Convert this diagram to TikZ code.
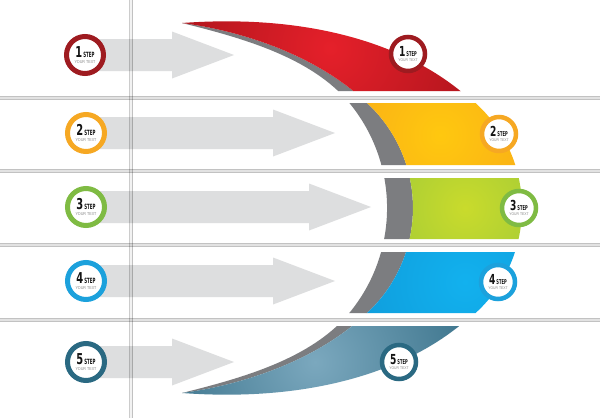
\documentclass[tikz,border=0pt]{standalone}
\usepackage{fontspec}
\setmainfont{Liberation Sans}
\newfontfamily\numfam{DejaVu Sans}
\usepackage{graphicx}
\definecolor{sepfill}{HTML}{E2E2E2}
\definecolor{sepline}{HTML}{C2C2C2}
\definecolor{arrowgray}{HTML}{DDDEDF}
\definecolor{cgray}{HTML}{7C7D80}
\definecolor{redA}{HTML}{E5202A}
\definecolor{redB}{HTML}{860C12}
\definecolor{orA}{HTML}{FFC80F}
\definecolor{orB}{HTML}{F4961E}
\definecolor{grA}{HTML}{C9DB2C}
\definecolor{grB}{HTML}{76B743}
\definecolor{blA}{HTML}{12B1EE}
\definecolor{blB}{HTML}{0C88C9}
\definecolor{tlA}{HTML}{7BA8BE}
\definecolor{tlB}{HTML}{195770}
\definecolor{ring1}{HTML}{9E1B20}
\definecolor{ring2}{HTML}{F6A823}
\definecolor{ring3}{HTML}{7FBB43}
\definecolor{ring4}{HTML}{1CA1DC}
\definecolor{ring5}{HTML}{2A6982}
\definecolor{textgray}{HTML}{8A8A8A}
\definecolor{textblack}{HTML}{141414}
\newcommand\stepnum[1]{{\numfam\fontsize{15}{15}\selectfont\bfseries\scalebox{0.66}[1]{#1}}}
\newcommand\stepword{{\numfam\fontsize{7.2}{7.2}\selectfont\bfseries\scalebox{0.55}[1]{STEP}}}
\newcommand\steptext{{\color{textgray}\scalebox{0.85}[1]{YOUR TEXT}}}
\newcommand\steplabel[1]{\stepnum{#1}\hspace{1pt}\stepword\\\steptext}
\def\colorregion{(182,23) .. controls (305,14) and (400,42) .. (460.4,91) arc[start angle=-55.5, end angle=55.5, radius=142] .. controls (400,374) and (305,402) .. (182,393) .. controls (242,385) and (317,361) .. (367.5,312.6) arc[start angle=47, end angle=-47, radius=143] .. controls (317,55) and (242,31) .. (182,23) -- cycle}
\def\grayregion{(182,23) .. controls (242,31) and (317,55) .. (367.5,103.4) arc[start angle=-47, end angle=47, radius=143] .. controls (317,361) and (242,385) .. (182,393) .. controls (242,378) and (311,359) .. (349.2,313.1) arc[start angle=39.6, end angle=-39.6, radius=165] .. controls (311,57) and (242,38) .. (182,23) -- cycle}
\tikzset{
  leftring/.style={circle, draw=#1, line width=5pt, fill=white, minimum size=37pt, inner sep=0pt},
  rightring/.style={circle, draw=#1, line width=4.5pt, fill=white, minimum size=34pt, inner sep=0pt},
  lbl/.style={anchor=center, inner sep=0pt, text=textblack, align=center, font=\fontsize{4.3}{5.9}\selectfont},
  rlbl/.style={lbl, scale=0.92, transform shape},
  arrowshape/.style={fill=arrowgray},
  vline/.style={draw=black, opacity=0.2, line width=0.9pt}
}
\begin{document}
\begin{tikzpicture}[x=1pt,y=-1pt]
\useasboundingbox (0,0) rectangle (600,418);
\fill[white] (0,0) rectangle (600,418);
% horizontal separators
\foreach \yy in {96,169,243,318} {
  \fill[sepfill] (0,\yy) rectangle (600,\yy+4);
  \draw[sepline, line width=0.9pt] (0,\yy+0.5) -- (600,\yy+0.5);
  \draw[sepline, line width=0.9pt] (0,\yy+3.5) -- (600,\yy+3.5);
}
% arrows
\foreach \yy/\hx in {55/172, 133/273, 207/309, 281/273, 362/172} {
  \fill[arrowshape] (85,\yy-16) -- (\hx,\yy-16) -- (\hx,\yy-23.5) -- (\hx+62,\yy) -- (\hx,\yy+23.5) -- (\hx,\yy+16) -- (85,\yy+16) -- cycle;
}
% vertical line
\fill[black, opacity=0.05] (129.5,0) rectangle (132.5,418);
\draw[vline] (129.5,0) -- (129.5,418);
\draw[vline] (132.5,0) -- (132.5,418);
% crescent bands
\begin{scope}
  \clip (0,-10) rectangle (600,91) (0,103) rectangle (600,165) (0,178) rectangle (600,239) (0,252) rectangle (600,313) (0,326) rectangle (600,430);
  \fill[cgray] \grayregion;
  \clip \colorregion;
  \begin{scope}\clip (0,-10) rectangle (600,97);
    \shade[inner color=redA, outer color=redB] (330,48) circle (280);\end{scope}
  \begin{scope}\clip (0,97) rectangle (600,171);
    \shade[inner color=orA, outer color=orB] (440,135) circle (200);\end{scope}
  \begin{scope}\clip (0,171) rectangle (600,245);
    \shade[inner color=grA, outer color=grB] (465,208) circle (200);\end{scope}
  \begin{scope}\clip (0,245) rectangle (600,320);
    \shade[inner color=blA, outer color=blB] (465,282) circle (230);\end{scope}
  \begin{scope}\clip (0,320) rectangle (600,430);
    \shade[inner color=tlA, outer color=tlB] (315,362) circle (250);\end{scope}
\end{scope}
% left circles
\node[leftring=ring1] (L1) at (85,55) {};
\node[leftring=ring2] (L2) at (86,133) {};
\node[leftring=ring3] (L3) at (86,207) {};
\node[leftring=ring4] (L4) at (86,281) {};
\node[leftring=ring5] (L5) at (86,362) {};
% right circles
\node[rightring=ring1] (R1) at (408,54) {};
\node[rightring=ring2] (R2) at (499,134) {};
\node[rightring=ring3] (R3) at (519,208) {};
\node[rightring=ring4] (R4) at (498,282) {};
\node[rightring=ring5] (R5) at (399,362) {};
% left labels
\node[lbl] (L1n) at (85,55) {\steplabel{1}};
\node[lbl] (L2n) at (86,133) {\steplabel{2}};
\node[lbl] (L3n) at (86,207) {\steplabel{3}};
\node[lbl] (L4n) at (86,281) {\steplabel{4}};
\node[lbl] (L5n) at (86,362) {\steplabel{5}};
% right labels
\node[rlbl] (R1n) at (408,54) {\steplabel{1}};
\node[rlbl] (R2n) at (499,134) {\steplabel{2}};
\node[rlbl] (R3n) at (519,208) {\steplabel{3}};
\node[rlbl] (R4n) at (498,282) {\steplabel{4}};
\node[rlbl] (R5n) at (399,362) {\steplabel{5}};
\end{tikzpicture}
\end{document}
